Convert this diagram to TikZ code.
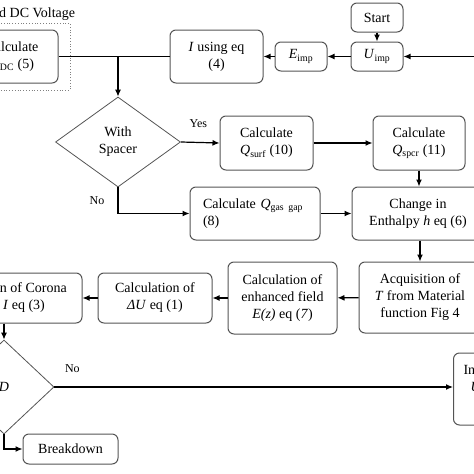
\documentclass[tikz,border=0pt]{standalone}
\usepackage{fontspec}
\setmainfont{Liberation Serif}
\usetikzlibrary{shapes.geometric,arrows.meta}
\definecolor{boxgray}{gray}{0.33}
\tikzset{
  box/.style={draw=boxgray, line width=1pt, rounded corners=6pt, align=center,
    inner sep=2pt, font=\fontsize{14}{17}\selectfont},
  decision/.style={diamond, draw=boxgray, line width=0.8pt, inner sep=0pt, align=center,
    font=\fontsize{14}{17}\selectfont},
  flow/.style={line width=1.2pt, -{Latex[length=7pt,width=6pt]}},
  tag/.style={inner sep=1pt, font=\fontsize{12}{14}\selectfont}
}
\newcommand\sub[2]{\textit{#1}\textsubscript{#2}}
\begin{document}
\begin{tikzpicture}[x=1pt,y=-1pt]
\useasboundingbox (0,0) rectangle (474,474);
\clip (0,0) rectangle (474,474);
% top row
\draw[dotted, gray, line width=0.8pt] (-5,23) rectangle (70,90);
\node[anchor=west, inner sep=0pt, font=\fontsize{14}{17}\selectfont] (dcv) at (-1,14) {d DC Voltage};
\node[box, minimum width=92, minimum height=53] (vdc) at (12,56.5) {Calculate\\\sub{V}{DC} (5)};
\node[box, minimum width=93, minimum height=53] (ieq) at (216.5,56.5) {\textit{I} using eq\\(4)};
\node[box, minimum width=52, minimum height=29] (eimp) at (301,56.5) {\sub{E}{imp}};
\node[box, minimum width=52, minimum height=29] (uimp) at (377,56.5) {\sub{U}{imp}};
\node[box, minimum width=52, minimum height=29] (start) at (377,17.5) {Start};
\coordinate (back) at (474,56.5);
% spacer branch
\node[decision, minimum width=125, minimum height=90] (spacer) at (118,142) {With\\Spacer};
\node[box, minimum width=93, minimum height=54] (qsurf) at (266.5,143) {Calculate\\\sub{Q}{surf} (10)};
\node[box, minimum width=92, minimum height=54] (qspcr) at (419,143) {Calculate\\\sub{Q}{spcr} (11)};
\node[box, minimum width=130, minimum height=53, text width=104, align=left] (qgas) at (255,213.5) {Calculate \sub{Q}{gas gap}\\(8)};
\node[box, minimum width=132, minimum height=53] (enth) at (418,213.5) {Change in\\Enthalpy \textit{h} eq (6)};
% lower row
\node[box, minimum width=122, minimum height=71] (acq) at (420,297.5) {Acquisition of\\\textit{T} from Material\\function Fig 4};
\node[box, minimum width=109, minimum height=72] (efield) at (282.5,298) {Calculation of\\enhanced field\\\textit{E(z)} eq (\textit{7})};
\node[box, minimum width=114, minimum height=50] (du) at (155,298) {Calculation of\\\textit{ΔU} eq (1)};
\node[box, minimum width=155, minimum height=50] (corona) at (4.5,298) {Calculation of Corona\\\hspace*{39pt}\textit{I} eq (3)};
\node[decision, minimum width=100, minimum height=94] (dd) at (4,387) {\textit{D}};
\node[box, minimum width=90, minimum height=72, text width=70, align=left, inner xsep=10pt, anchor=west] (incr) at (453,389) {Increase\\\hspace*{7pt}\sub{U}{imp}\\\strut};
\node[box, minimum width=95, minimum height=30] (bd) at (70.5,449) {Breakdown};
% connectors
\draw[flow] (start) -- (uimp);
\draw[flow] (back) -- (uimp);
\draw[flow] (uimp) -- (eimp);
\draw[flow] (eimp) -- (ieq);
\coordinate (jn) at (spacer.north |- vdc.east);
\draw[line width=1.2pt] (vdc.east) -- (ieq.west);
\draw[flow] (jn) -- (spacer.north);
\draw[flow] (spacer.east) -- node[tag, above=13pt, pos=0.45] {Yes} (qsurf.west);
\draw[flow] (spacer.south) |- node[tag, left=12pt, pos=0.25] {No} (qgas.west);
\draw[flow] (qsurf) -- (qspcr);
\draw[flow] (qspcr.south) -- (qspcr.south |- enth.north);
\draw[flow] (qgas) -- (enth);
\draw[flow] (acq.north |- enth.south) -- (acq.north);
\draw[flow] (acq) -- (efield);
\draw[flow] (efield) -- (du);
\draw[flow] (du) -- (corona);
\draw[flow] (dd.north |- corona.south) -- (dd.north);
\draw[flow] (dd.east) -- node[tag, above=13pt, pos=0.045] {No} (dd.east -| incr.west);
\draw[flow] (dd.south) |- (bd.west);
\end{tikzpicture}
\end{document}
